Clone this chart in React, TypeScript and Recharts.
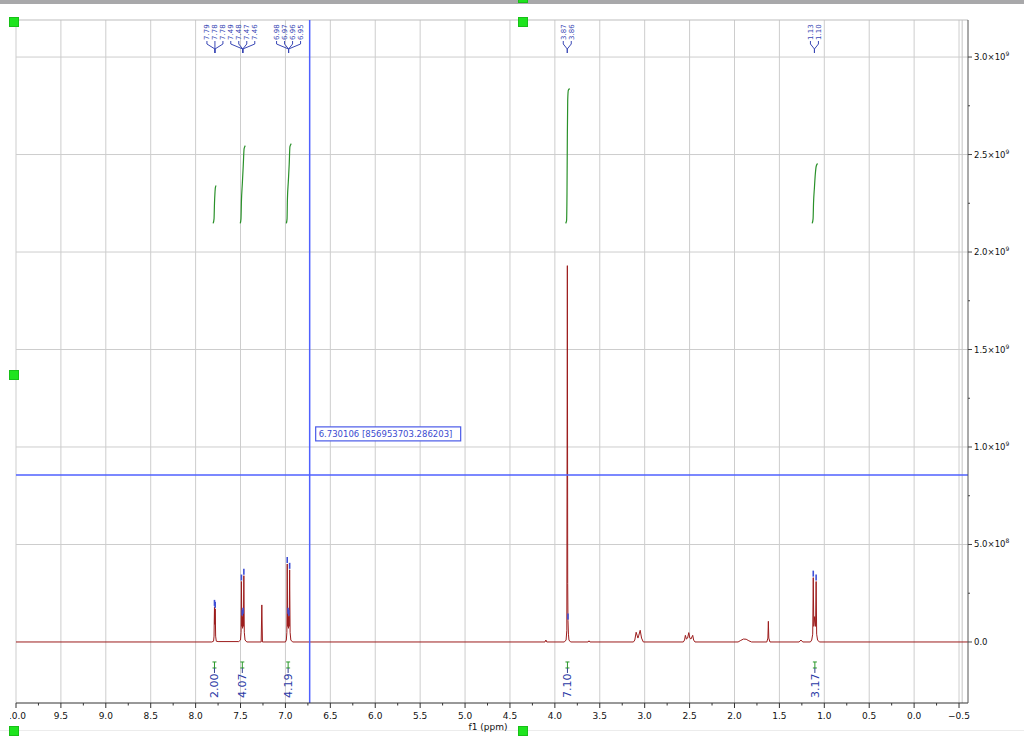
import {
  CartesianGrid,
  ComposedChart,
  Line,
  ReferenceLine,
  Scatter,
  XAxis,
  YAxis,
} from "recharts";

const FONT = "'DejaVu Sans', sans-serif";

// chemical shift axis (ppm), drawn right to left
const xMajorTicks = [10, 9.5, 9, 8.5, 8, 7.5, 7, 6.5, 6, 5.5, 5, 4.5, 4, 3.5, 3, 2.5, 2, 1.5, 1, 0.5, 0, -0.5];
const xMinorTicks = [9.75, 9.25, 8.75, 8.25, 7.75, 7.25, 6.75, 6.25, 5.75, 5.25, 4.75, 4.25, 3.75, 3.25, 2.75, 2.25, 1.75, 1.25, 0.75, 0.25, -0.25];

// intensity axis, values in units of 1e9
const yMajorTicks = [0, 0.5, 1, 1.5, 2, 2.5, 3];
const yMinorTicks = [0.25, 0.75, 1.25, 1.75, 2.25, 2.75];
const yTickText = ["0.0", "5.0×10", "1.0×10", "1.5×10", "2.0×10", "2.5×10", "3.0×10"];
const yTickExp = ["", "8", "9", "9", "9", "9", "9"];

// 1H spectrum [ppm, intensity]
const spectrum: [number, number][] = [
  [10.0, 0], [7.82, 0], [7.8, 0.004], [7.795, 0.03], [7.79, 0.18], [7.786, 0.09],
  [7.782, 0.17], [7.777, 0.03], [7.77, 0.004], [7.75, 0.002], [7.52, 0.002],
  [7.5, 0.01], [7.494, 0.05], [7.49, 0.31], [7.486, 0.08], [7.481, 0.13],
  [7.477, 0.07], [7.472, 0.14], [7.468, 0.08], [7.463, 0.34], [7.458, 0.05],
  [7.45, 0.01], [7.43, 0], [7.27, 0], [7.263, 0.19], [7.256, 0],
  [7.0, 0], [6.99, 0.01], [6.984, 0.05], [6.98, 0.4], [6.976, 0.08],
  [6.971, 0.14], [6.967, 0.07], [6.962, 0.13], [6.958, 0.08], [6.953, 0.37],
  [6.948, 0.05], [6.94, 0.01], [6.92, 0],
  [4.11, 0], [4.1, 0.01], [4.09, 0],
  [3.895, 0], [3.875, 0.01], [3.867, 0.06], [3.861, 1.93], [3.857, 0.3],
  [3.854, 0.11], [3.849, 0.04], [3.843, 0.01], [3.825, 0],
  [3.63, 0], [3.62, 0.006], [3.61, 0],
  [3.125, 0], [3.11, 0.01], [3.095, 0.05], [3.085, 0.035], [3.075, 0.02],
  [3.065, 0.035], [3.05, 0.06], [3.035, 0.02], [3.015, 0],
  [2.57, 0], [2.556, 0.01], [2.547, 0.034], [2.535, 0.015], [2.522, 0.02],
  [2.509, 0.048], [2.497, 0.02], [2.485, 0.015], [2.465, 0.034], [2.455, 0.01], [2.44, 0],
  [1.96, 0], [1.93, 0.008], [1.9, 0.015], [1.87, 0.014], [1.84, 0.006], [1.81, 0],
  [1.64, 0], [1.628, 0.02], [1.623, 0.106], [1.618, 0.02], [1.605, 0],
  [1.28, 0], [1.26, 0.01], [1.24, 0],
  [1.155, 0], [1.14, 0.01], [1.129, 0.04], [1.123, 0.33], [1.117, 0.08],
  [1.107, 0.13], [1.097, 0.08], [1.091, 0.31], [1.085, 0.04], [1.075, 0.01], [1.055, 0],
  [-0.6, 0],
];

// picked peak tops [ppm, intensity]
const peakPicks: [number, number][] = [
  [7.79, 0.18], [7.782, 0.17], [7.49, 0.31], [7.481, 0.13], [7.472, 0.14], [7.463, 0.34],
  [6.98, 0.4], [6.971, 0.14], [6.962, 0.13], [6.953, 0.37], [3.854, 0.11],
  [1.123, 0.33], [1.091, 0.31],
];

// peak label groups at the top
const peakGroupPpm = [7.785, 7.475, 6.965, 3.862, 1.11];
const peakGroupLabels = [
  ["7.79", "7.78", "7.78"],
  ["7.49", "7.48", "7.47", "7.46"],
  ["6.98", "6.97", "6.96", "6.95"],
  ["3.87", "3.86"],
  ["1.13", "1.10"],
];

// integral curves [ppm, running integral]
const integralA: [number, number][] = [[7.805, 2.147], [7.795, 2.17], [7.79, 2.25], [7.785, 2.3], [7.78, 2.33], [7.772, 2.341]];
const integralB: [number, number][] = [[7.503, 2.147], [7.495, 2.17], [7.49, 2.26], [7.48, 2.35], [7.47, 2.44], [7.46, 2.53], [7.447, 2.546]];
const integralC: [number, number][] = [[6.99, 2.147], [6.982, 2.17], [6.978, 2.27], [6.968, 2.36], [6.958, 2.45], [6.95, 2.54], [6.935, 2.556]];
const integralD: [number, number][] = [[3.88, 2.147], [3.87, 2.16], [3.865, 2.3], [3.861, 2.6], [3.857, 2.78], [3.85, 2.83], [3.835, 2.838]];
const integralE: [number, number][] = [[1.135, 2.147], [1.125, 2.17], [1.12, 2.25], [1.11, 2.33], [1.1, 2.4], [1.09, 2.44], [1.075, 2.454]];

// integral values shown under the baseline
const integralPpm = [7.79, 7.48, 6.97, 3.86, 1.105];
const integralValues = ["2.00", "4.07", "4.19", "7.10", "3.17"];

const cursorPpm = 6.730106;
const cursorValue = 0.856953703;
const cursorText = "6.730106 [856953703.286203]";

const pts = (arr: [number, number][]) => arr.map(([x, y]) => ({ x, y }));

function XTick(props: any) {
  const { x, y, payload } = props;
  const v = payload.value;
  const major = xMajorTicks.includes(v);
  const label = v.toFixed(1).replace("-", "−");
  return (
    <g>
      <defs>
        <clipPath id="xtickclip">
          <rect x={10} y={690} width={1000} height={49} />
        </clipPath>
      </defs>
      <line x1={x} x2={x} y1={y} y2={y + (major ? 5 : 2.5)} stroke="#333" />
      {major && (
        <text x={x} y={y + 16} textAnchor="middle" fontSize={9} fontFamily={FONT} fill="#111" clipPath="url(#xtickclip)">
          {label}
        </text>
      )}
    </g>
  );
}

function YTick(props: any) {
  const { x, y, payload } = props;
  const i = yMajorTicks.indexOf(payload.value);
  const major = i >= 0;
  return (
    <g>
      <line x1={x} x2={x + (major ? 4 : 2)} y1={y} y2={y} stroke="#444" />
      {major && (
        <text x={x + 6} y={y + 3} fontSize={8.5} fontFamily={FONT} fill="#111">
          {yTickText[i]}
          {yTickExp[i] && (
            <tspan dy={-4} fontSize={6}>
              {yTickExp[i]}
            </tspan>
          )}
        </text>
      )}
    </g>
  );
}

function PeakTick(props: any) {
  const { cx, cy } = props;
  return <line x1={cx} x2={cx} y1={cy - 7} y2={cy - 1} stroke="#3f4fd6" strokeWidth={1.6} />;
}

function PeakFan(props: any) {
  const { cx, cy, payload } = props;
  const labels: string[] = payload.labels;
  const n = labels.length;
  return (
    <g>
      {labels.map((t, i) => {
        const lx = cx + (i - (n - 1) / 2) * 8;
        return (
          <g key={i}>
            <text
              transform={`translate(${lx},${cy + 20}) rotate(-90)`}
              dy="0.35em"
              fontSize={7}
              fontFamily={FONT}
              fill="#3a48b5"
            >
              {t}
            </text>
            <polyline
              points={`${lx},${cy + 21} ${lx},${cy + 24} ${cx},${cy + 29} ${cx},${cy + 33}`}
              fill="none"
              stroke="#3a48b5"
              strokeWidth={1}
            />
          </g>
        );
      })}
    </g>
  );
}

function IntegralMark(props: any) {
  const { cx, cy, payload } = props;
  return (
    <g>
      <line x1={cx - 2} x2={cx + 2} y1={cy - 3} y2={cy - 3} stroke="#2a9a2a" />
      <line x1={cx - 2} x2={cx + 2} y1={cy + 3} y2={cy + 3} stroke="#2a9a2a" />
      <line x1={cx} x2={cx} y1={cy - 3} y2={cy + 3} stroke="#2a9a2a" />
      <line x1={cx} x2={cx} y1={cy + 3} y2={cy + 8} stroke="#33408f" />
      <text
        transform={`translate(${cx},${cy + 33}) rotate(-90)`}
        dy="0.36em"
        fontSize={11}
        fontFamily={FONT}
        fill="#2b3aa6"
      >
        {payload.label}
      </text>
    </g>
  );
}

function CursorBox(props: any) {
  const { cx, cy, payload } = props;
  return (
    <g>
      <rect x={cx + 6} y={cy - 48} width={145} height={14} fill="#fff" stroke="#4a5ae8" strokeWidth={1.2} />
      <text x={cx + 9} y={cy - 37.5} fontSize={8.5} fontFamily={FONT} fill="#3b4bd0">
        {payload.label}
      </text>
    </g>
  );
}

const squares = [
  [9, 17], [518, 17], [9, 370], [9, 726], [518, 726], [518, -7],
];

export default function App() {
  const groupData = peakGroupPpm.map((x, i) => ({ x, y: 3.19, labels: peakGroupLabels[i] }));
  const integralData = integralPpm.map((x, i) => ({ x, y: -0.118, label: integralValues[i] }));
  const integrals = [integralA, integralB, integralC, integralD, integralE];

  return (
    <div style={{ position: "absolute", left: 0, top: 0, width: 1024, height: 739, background: "#fff", overflow: "hidden" }}>
      <div style={{ position: "absolute", left: 0, top: 0, width: 1024, height: 4, background: "#a8a8aa" }} />
      <div style={{ position: "absolute", left: 0, top: 730, width: 1024, height: 1, background: "#ececec" }} />
      <ComposedChart width={1024} height={739} margin={{ top: 20, right: 0, bottom: 0, left: 16 }}>
        <CartesianGrid
          stroke="#cdcdcd"
          verticalValues={xMajorTicks}
          horizontalValues={yMajorTicks.filter((v) => v > 0)}
        />
        <XAxis
          type="number"
          dataKey="x"
          domain={[-0.6, 10]}
          reversed
          allowDataOverflow
          ticks={[...xMajorTicks, ...xMinorTicks]}
          interval={0}
          tickSize={0}
          tickMargin={0}
          height={36}
          tick={(p: any) => <XTick {...p} />}
          axisLine={{ stroke: "#333" }}
          label={{ value: "f1 (ppm)", position: "insideBottom", offset: 9, dx: -4, fontSize: 9, fontFamily: FONT, fill: "#111" }}
        />
        <YAxis
          type="number"
          dataKey="y"
          orientation="right"
          domain={[-0.313, 3.19]}
          allowDataOverflow
          ticks={[...yMajorTicks, ...yMinorTicks]}
          interval={0}
          tickSize={0}
          tickMargin={0}
          width={56}
          tick={(p: any) => <YTick {...p} />}
          axisLine={{ stroke: "#555" }}
        />
        <ReferenceLine y={3.19} stroke="#bdbdbd" />
        <ReferenceLine x={-0.535} stroke="#c4c4c4" />
        <Line
          data={pts(spectrum)}
          dataKey="y"
          type="linear"
          stroke="#9c1c1c"
          strokeWidth={1}
          dot={false}
          activeDot={false}
          isAnimationActive={false}
        />
        {integrals.map((d, i) => (
          <Line
            key={i}
            data={pts(d)}
            dataKey="y"
            type="monotone"
            stroke="#2a912a"
            strokeWidth={1.2}
            dot={false}
            activeDot={false}
            isAnimationActive={false}
          />
        ))}
        <Scatter data={pts(peakPicks)} dataKey="y" shape={(p: any) => <PeakTick {...p} />} isAnimationActive={false} />
        <Scatter data={groupData} dataKey="y" shape={(p: any) => <PeakFan {...p} />} isAnimationActive={false} />
        <Scatter data={integralData} dataKey="y" shape={(p: any) => <IntegralMark {...p} />} isAnimationActive={false} />
        <ReferenceLine x={cursorPpm} stroke="#4f61ff" strokeWidth={1.5} />
        <ReferenceLine y={cursorValue} stroke="#4f61ff" strokeWidth={1.5} />
        <Scatter
          data={[{ x: cursorPpm, y: cursorValue, label: cursorText }]}
          dataKey="y"
          shape={(p: any) => <CursorBox {...p} />}
          isAnimationActive={false}
        />
      </ComposedChart>
      {squares.map(([l, t], i) => (
        <div
          key={i}
          style={{ position: "absolute", left: l, top: t, width: 10, height: 10, background: "#1ee41e", boxSizing: "border-box", border: "1px solid #17c017" }}
        />
      ))}
    </div>
  );
}
